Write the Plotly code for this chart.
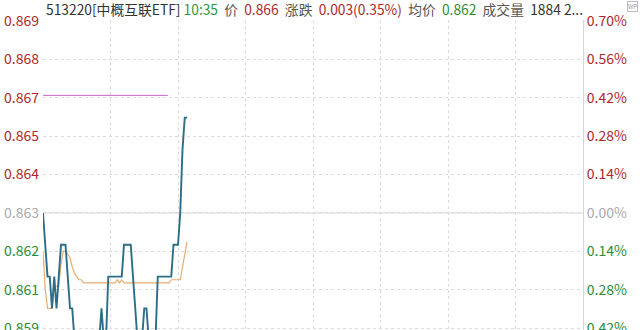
import plotly.graph_objects as go

# ---- data ----
prev_close = 0.863
minutes = list(range(65))
price = [0.863, 0.862, 0.861, 0.861, 0.860, 0.861, 0.860, 0.861, 0.862, 0.862,
         0.862, 0.861, 0.860, 0.860, 0.859, 0.858, 0.858, 0.858, 0.857, 0.857,
         0.858, 0.858, 0.858, 0.858, 0.859, 0.859, 0.860, 0.859, 0.859, 0.861,
         0.861, 0.861, 0.861, 0.861, 0.861, 0.861, 0.862, 0.862, 0.862, 0.862,
         0.861, 0.860, 0.859, 0.858, 0.859, 0.860, 0.860, 0.859, 0.858, 0.858,
         0.859, 0.861, 0.861, 0.861, 0.861, 0.861, 0.861, 0.861, 0.862, 0.862,
         0.862, 0.863, 0.865, 0.866, 0.866]
avg_price = [0.8618, 0.8606, 0.8600, 0.8600, 0.8600, 0.8607, 0.8607, 0.8607, 0.8614, 0.8618,
             0.8618, 0.8617, 0.8616, 0.8613, 0.8611, 0.8610, 0.8609, 0.8609, 0.8608, 0.8608,
             0.8608, 0.8608, 0.8608, 0.8608, 0.8608, 0.8608, 0.8608, 0.8608, 0.8608, 0.8608,
             0.8608, 0.8608, 0.8608, 0.8609, 0.8608, 0.8609, 0.8608, 0.8608, 0.8608, 0.8608,
             0.8608, 0.8608, 0.8608, 0.8608, 0.8608, 0.8608, 0.8608, 0.8608, 0.8608, 0.8608,
             0.8608, 0.8608, 0.8608, 0.8608, 0.8608, 0.8608, 0.8608, 0.8609, 0.8609, 0.8609,
             0.8609, 0.8609, 0.8613, 0.8617, 0.8621]
ref_x = [0, 55.5]
ref_y = [0.8667, 0.8667]
pct_steps = [-3, -2, -1, 0, 1, 2, 3, 4, 5]
x_grid = [0, 30, 60, 90, 120, 150, 180, 210, 240]

RED = "#b0282a"
GREEN = "#2e8b35"
GRAY = "#aaaaaa"
FONT = "Noto Sans CJK SC"

tickvals, lt, rt = [], [], []
for k in pct_steps:
    v = prev_close * (1 + k * 0.0014)
    tickvals.append(v)
    col = RED if k > 0 else (GREEN if k < 0 else GRAY)
    lt.append('<span style="color:%s">%.3f</span>' % (col, v))
    rt.append('<span style="color:%s">%.2f%%</span>' % (col, abs(k) * 0.14))

yr = [0.85932, 0.86907]

fig = go.Figure()
fig.add_trace(go.Scatter(x=ref_x, y=ref_y, mode="lines", line=dict(color="#c466c4", width=1), hoverinfo="skip"))
fig.add_trace(go.Scatter(x=minutes, y=avg_price, mode="lines", line=dict(color="#e6ad72", width=1.2), hoverinfo="skip"))
fig.add_trace(go.Scatter(x=minutes, y=price, mode="lines", line=dict(color="#2c6e88", width=1.9), hoverinfo="skip"))
fig.add_trace(go.Scatter(x=[0], y=[prev_close], yaxis="y2", mode="markers", marker=dict(opacity=0), hoverinfo="skip"))

fig.add_shape(type="line", xref="x", yref="y", x0=0, x1=240, y0=prev_close, y1=prev_close,
              line=dict(color="#d6d6d6", width=1.2), layer="below")

fig.update_layout(
    width=640, height=330,
    margin=dict(l=43, r=57, t=20, b=0, autoexpand=False),
    paper_bgcolor="white", plot_bgcolor="white",
    showlegend=False,
    font=dict(family=FONT, size=13),
    xaxis=dict(range=[0, 240], tickvals=x_grid, showticklabels=False, showgrid=True, automargin=False,
               gridcolor="#dcdcdc", griddash="dot", zeroline=False, showline=False, ticks=""),
    yaxis=dict(range=yr, tickvals=tickvals, ticktext=lt, showgrid=True, gridcolor="#dcdcdc",
               griddash="dot", zeroline=False, showline=False, ticks="", automargin=False,
               tickfont=dict(family=FONT, size=14), ticklabelstandoff=3, ticklabeloverflow="allow"),
    yaxis2=dict(range=yr, tickvals=tickvals, ticktext=rt, overlaying="y", side="right",
                showgrid=False, zeroline=False, showline=True, linecolor="#d6d6d6", ticks="",
                automargin=False,
                tickfont=dict(family=FONT, size=14), ticklabelstandoff=0, ticklabeloverflow="allow"),
)

title = ('<span style="color:#333333">513220[中概互联ETF]</span> '
         '<span style="color:#2e9a3c">10:35</span>  '
         '<span style="color:#555555">价</span>  '
         '<span style="color:%s">0.866</span>  '
         '<span style="color:#555555">涨跌</span>  '
         '<span style="color:%s">0.003(0.35%%)</span>  '
         '<span style="color:#555555">均价</span>  '
         '<span style="color:%s">0.862</span>  '
         '<span style="color:#555555">成交量</span>  '
         '<span style="color:#333333">1884 2...</span>') % (RED, RED, GREEN)
fig.add_annotation(xref="paper", yref="paper", x=0.0, xshift=1, y=1.0, yshift=23, xanchor="left", yanchor="top",
                   text=title, showarrow=False, font=dict(family=FONT, size=13.8), align="left")
fig.add_annotation(xref="paper", yref="paper", x=1.0, xshift=49, y=1.0, yshift=19, xanchor="center", yanchor="top",
                   text="WP", showarrow=False, font=dict(family=FONT, size=6, color="#999999"),
                   bordercolor="#bbbbbb", borderwidth=1, borderpad=0)

fig.write_html("out.html")
